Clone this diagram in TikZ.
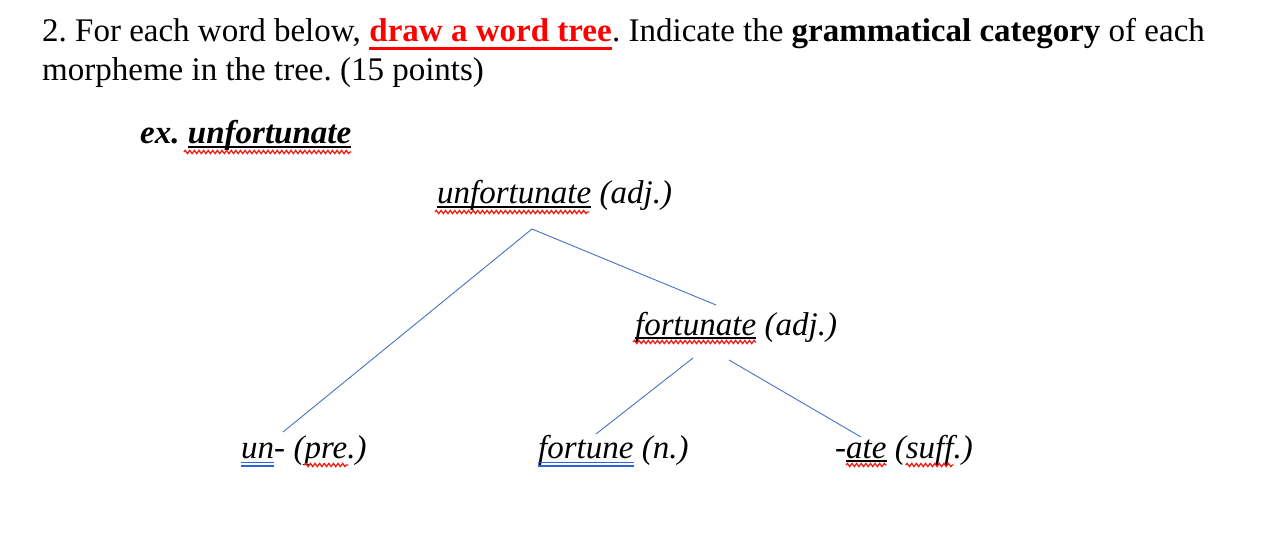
\documentclass[tikz,border=0pt]{standalone}
\usepackage{fontspec}
\setmainfont{Liberation Serif}
\usepackage{xcolor}
\usetikzlibrary{calc,positioning,decorations.pathmorphing}
\definecolor{branchblue}{HTML}{4472C4}
\definecolor{spellred}{HTML}{F01E14}
\definecolor{gramblue}{HTML}{2F62D6}
\frenchspacing
\tikzset{
  textline/.style={inner sep=0pt,anchor=base west,font=\fontsize{33}{38}\selectfont},
  word/.style={textline,font=\fontsize{33}{38}\selectfont\itshape},
  branch/.style={branchblue,line width=0.9pt},
  wavy/.style={spellred,line width=1.3pt,decorate,
    decoration={snake,segment length=4.6pt,amplitude=1.6pt}},
  under/.style={line width=1.3pt},
  dbl/.style={gramblue,line width=1.2pt}
}

\begin{document}
\begin{tikzpicture}[x=1pt,y=-1pt]
  \useasboundingbox (0,0) rectangle (1278,548);
  % question
  \node[textline] (q1a) at (42,42) {2. For each word below,};
  \node[textline,text=red,font=\fontsize{33}{38}\selectfont\bfseries] (q1b) at ([xshift=8.25pt]q1a.base east) {draw a word tree};
  \node[textline] (q1c) at (q1b.base east) {. Indicate the \textbf{grammatical category} of each};
  \node[textline] (q2) at (42,81) {morpheme in the tree. (15 points)};
  \draw[red,line width=2.8pt] ($(q1b.base west)+(0,6.5)$) -- ($(q1b.base east)+(0,6.5)$);
  \node[word,font=\fontsize{33}{38}\selectfont\bfseries\itshape] (ex) at (140,144) {ex.};
  \node[word,font=\fontsize{33}{38}\selectfont\bfseries\itshape] (exword) at ([xshift=8pt]ex.base east) {unfortunate};
  % tree
  \node[word] (root) at (437,204) {unfortunate};
  \node[word] (rootcat) at ([xshift=8pt]root.base east) {(adj.)};
  \node[word] (mid) at (635,335) {fortunate};
  \node[word] (midcat) at ([xshift=8pt]mid.base east) {(adj.)};
  \node[word] (pre) at (241,458) {un-};
  \node[word] (precat) at ([xshift=8pt]pre.base east) {(pre.)};
  \node[word] (stem) at (538,458) {fortune};
  \node[word] (stemcat) at ([xshift=8pt]stem.base east) {(n.)};
  \node[word] (suf) at (835,458) {-ate};
  \node[word] (sufcat) at ([xshift=8pt]suf.base east) {(suff.)};
  % branch ends
  \coordinate (rootfoot) at ($(root.base west)+(95,25)$);
  \coordinate (midhead) at ($(mid.base west)+(81,-30)$);
  \coordinate (prehead) at ($(pre.base west)+(42,-26)$);
  \coordinate (midfootl) at ($(mid.base west)+(58,23)$);
  \coordinate (midfootr) at ($(mid.base west)+(94,25)$);
  \coordinate (stemhead) at ($(stem.base west)+(58,-24)$);
  \coordinate (sufhead) at ($(suf.base west)+(26,-21)$);
  \draw[branch] (prehead) -- (rootfoot) -- (midhead);
  \draw[branch] (stemhead) -- (midfootl);
  \draw[branch] (midfootr) -- (sufhead);
  % underlines
  \draw[under] ($(exword.base west)+(0,3)$) -- ($(exword.base east)+(0,3)$);
  \draw[under] ($(root.base west)+(0,3)$) -- ($(root.base east)+(0,3)$);
  \draw[under] ($(mid.base west)+(0,3)$) -- ($(mid.base east)+(0,3)$);
  \draw[under] ($(suf.base west)+(11,3)$) -- ($(suf.base east)+(0,3)$);
  \draw[dbl] ($(pre.base west)+(0,4.5)$) -- ($(pre.base east)+(-11,4.5)$)
    ($(pre.base west)+(0,8)$) -- ($(pre.base east)+(-11,8)$);
  \draw[dbl] ($(stem.base west)+(0,4.5)$) -- ($(stem.base east)+(0,4.5)$)
    ($(stem.base west)+(0,8)$) -- ($(stem.base east)+(0,8)$);
  \draw[wavy] ($(exword.base west)+(-4,8)$) -- ($(exword.base east)+(0,8)$);
  \draw[wavy] ($(root.base west)+(-2,8)$) -- ($(root.base east)+(-2,8)$);
  \draw[wavy] ($(mid.base west)+(-2,7)$) -- ($(mid.base east)+(0,7)$);
  \draw[wavy] ($(precat.base west)+(11,7)$) -- ($(precat.base west)+(55,7)$);
  \draw[wavy] ($(suf.base west)+(11,7)$) -- ($(suf.base east)+(0,7)$);
  \draw[wavy] ($(sufcat.base west)+(11,7)$) -- ($(sufcat.base west)+(59,7)$);
\end{tikzpicture}
\end{document}
